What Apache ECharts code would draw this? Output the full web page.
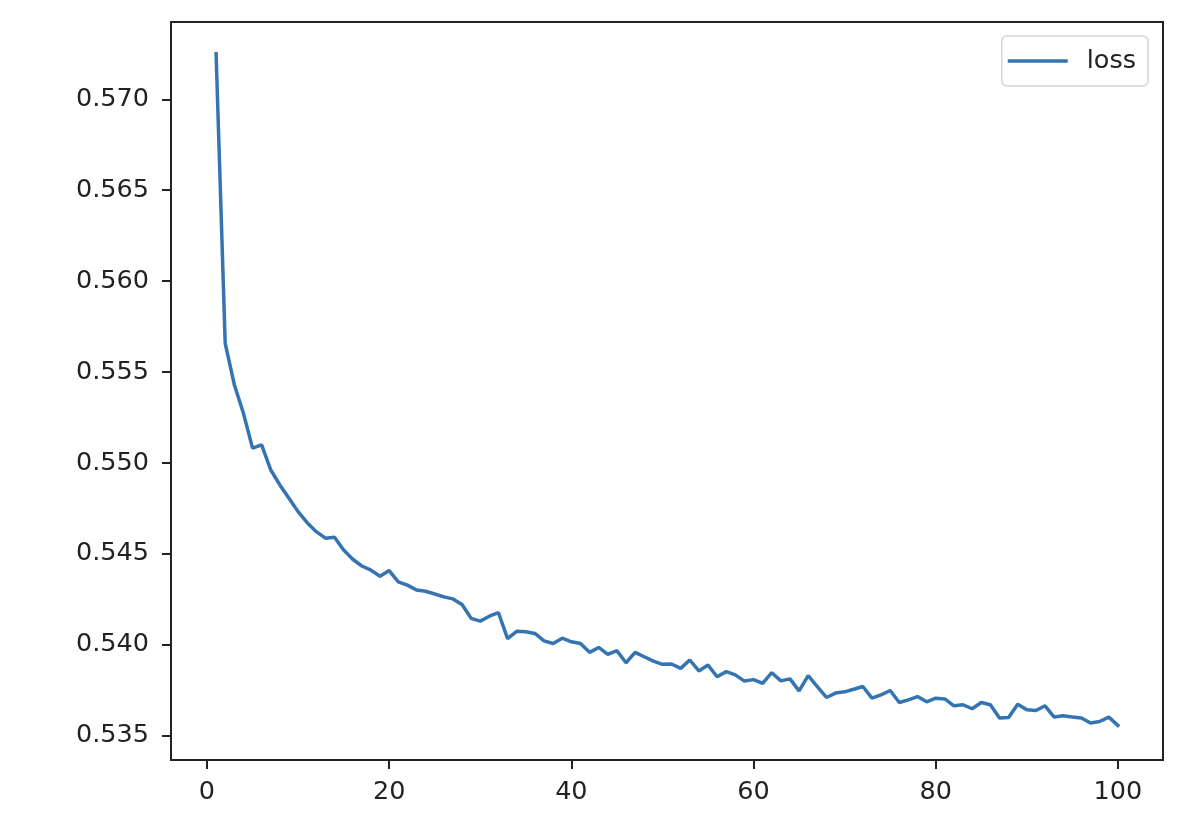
<!DOCTYPE html>
<html>
<head>
<meta charset="utf-8">
<script src="https://cdn.jsdelivr.net/npm/echarts@6/dist/echarts.min.js"></script>
<style>
html,body{margin:0;padding:0;background:#fff;}
#chart{width:1204px;height:832px;}
</style>
</head>
<body>
<div id="chart"></div>
<script>
var epochs = [1,2,3,4,5,6,7,8,9,10,11,12,13,14,15,16,17,18,19,20,
  21,22,23,24,25,26,27,28,29,30,31,32,33,34,35,36,37,38,39,40,
  41,42,43,44,45,46,47,48,49,50,51,52,53,54,55,56,57,58,59,60,
  61,62,63,64,65,66,67,68,69,70,71,72,73,74,75,76,77,78,79,80,
  81,82,83,84,85,86,87,88,89,90,91,92,93,94,95,96,97,98,99,100];
var loss = [0.57250,0.55657,0.55430,0.55273,0.55081,0.55099,0.54961,0.54879,0.54806,0.54732,
  0.54671,0.54622,0.54586,0.54591,0.54521,0.54470,0.54433,0.54410,0.54377,0.54408,
  0.54346,0.54328,0.54301,0.54294,0.54279,0.54263,0.54252,0.54221,0.54145,0.54130,
  0.54157,0.54176,0.54034,0.54074,0.54071,0.54062,0.54021,0.54007,0.54036,0.54016,
  0.54007,0.53958,0.53985,0.53947,0.53967,0.53901,0.53958,0.53934,0.53910,0.53892,
  0.53894,0.53870,0.53916,0.53856,0.53888,0.53824,0.53852,0.53834,0.53800,0.53808,
  0.53788,0.53846,0.53801,0.53812,0.53746,0.53830,0.53770,0.53710,0.53734,0.53741,
  0.53755,0.53770,0.53706,0.53724,0.53748,0.53682,0.53697,0.53715,0.53686,0.53706,
  0.53702,0.53664,0.53670,0.53648,0.53682,0.53670,0.53597,0.53600,0.53673,0.53642,
  0.53638,0.53664,0.53602,0.53609,0.53602,0.53597,0.53569,0.53578,0.53602,0.53556];
var xTicks = [0,20,40,60,80,100];
var yTicks = [0.535,0.540,0.545,0.550,0.555,0.560,0.565,0.570];
var seriesName = 'loss';

var points = epochs.map(function(e,i){return [e, loss[i]];});
var chart = echarts.init(document.getElementById('chart'), null, {renderer:'canvas'});
var axisColor = '#222';
var fontFam = 'DejaVu Sans';
var lineColor = '#3574b2';
chart.setOption({
  animation: false,
  backgroundColor: '#fff',
  grid: {left:171, top:22, right:41, bottom:72, show:true, borderColor:axisColor, borderWidth:2, backgroundColor:'transparent'},
  legend: {
    data: [{name: seriesName, icon: 'rect'}], right: 56, top: 36, orient:'horizontal',
    itemWidth: 60, itemHeight: 3.5, itemGap: 10,
    padding: [12, 12, 12, 6],
    borderColor: '#d4d4d4', borderWidth: 1.5, borderRadius: 5,
    backgroundColor:'#fff',
    itemStyle: {color: lineColor},
    textStyle: {fontFamily: fontFam, fontSize: 25.5, color: '#222', padding:[0,0,0,14]}
  },
  xAxis: {
    type: 'value', min: -3.95, max: 104.95,
    axisLine: {show:true, onZero:false, lineStyle:{color:axisColor, width:2}},
    axisTick: {show:true, length:9, lineStyle:{color:axisColor, width:2}, customValues: xTicks},
    axisLabel: {customValues: xTicks, margin: 19, fontFamily: fontFam, fontSize: 25.5, color: '#222'},
    splitLine: {show:false}
  },
  yAxis: {
    type: 'value', min: 0.53366, max: 0.57425,
    axisLine: {show:true, onZero:false, lineStyle:{color:axisColor, width:2}},
    axisTick: {show:true, length:9, lineStyle:{color:axisColor, width:2}, customValues: yTicks},
    axisLabel: {customValues: yTicks, margin: 22, fontFamily: fontFam, fontSize: 25.5, color: '#222',
      formatter: function(v){return v.toFixed(3);}},
    splitLine: {show:false}
  },
  series: [{
    name: seriesName, type: 'line', data: points, symbol: 'none', showSymbol:false,
    lineStyle: {color:lineColor, width:3.5, cap:'square'}, itemStyle:{color:lineColor}
  }]
});
</script>
</body>
</html>
